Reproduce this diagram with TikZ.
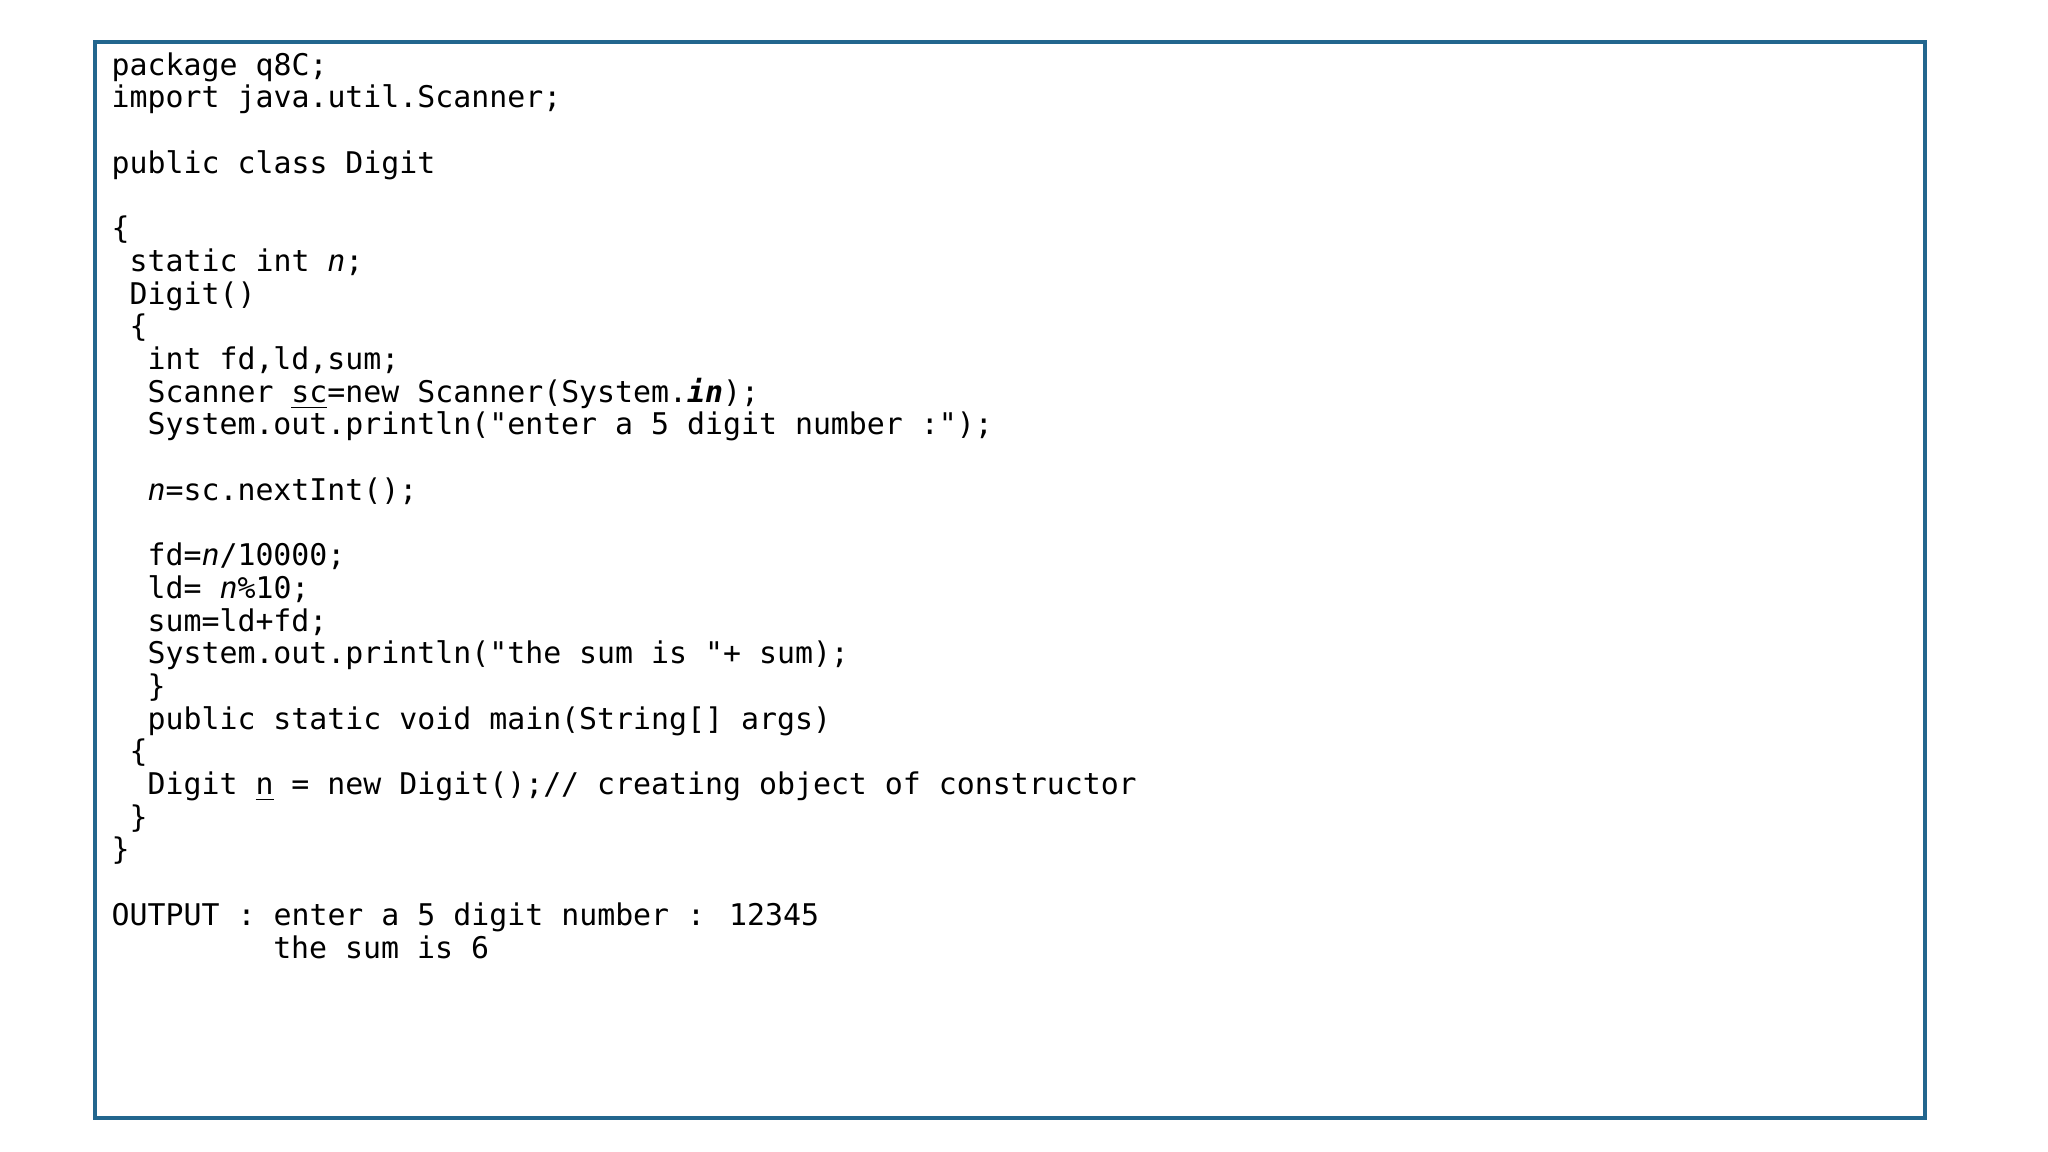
\documentclass[tikz,border=0pt]{standalone}
\usepackage{fontspec}
\newfontfamily\code{DejaVu Sans Mono}
\definecolor{frame}{HTML}{22668E}
\newcommand{\cl}[3]{\node[codetext] at (1.11+#2*0.1795,-0.752-#1*0.327) {#3};}
\begin{document}
\begin{tikzpicture}[codetext/.style={anchor=base west,inner sep=0pt,font=\code\fontsize{8.5}{10}\selectfont}]
\useasboundingbox (0,0) rectangle (20.48,-11.52);
\draw[frame,line width=1.2pt] (0.95,-0.42) rectangle (19.25,-11.18);
\cl{0}{0}{package q8C;}
\cl{1}{0}{import java.util.Scanner;}
\cl{3}{0}{public class Digit}
\cl{5}{0}{\{}
\cl{6}{1}{static int \textit{n};}
\cl{7}{1}{Digit()}
\cl{8}{1}{\{}
\cl{9}{2}{int fd,ld,sum;}
\cl{10}{2}{Scanner \underline{sc}=new Scanner(System.\textbf{\textit{in}});}
\cl{11}{2}{System.out.println("enter a 5 digit number :");}
\cl{13}{2}{\textit{n}=sc.nextInt();}
\cl{15}{2}{fd=\textit{n}/10000;}
\cl{16}{2}{ld= \textit{n}\%10;}
\cl{17}{2}{sum=ld+fd;}
\cl{18}{2}{System.out.println("the sum is "+ sum);}
\cl{19}{2}{\}}
\cl{20}{2}{public static void main(String[] args)}
\cl{21}{1}{\{}
\cl{22}{2}{Digit \underline{n} = new Digit();// creating object of constructor}
\cl{23}{1}{\}}
\cl{24}{0}{\}}
\cl{26}{0}{OUTPUT : enter a 5 digit number : 12345}
\cl{27}{9}{the sum is 6}
\end{tikzpicture}
\end{document}
